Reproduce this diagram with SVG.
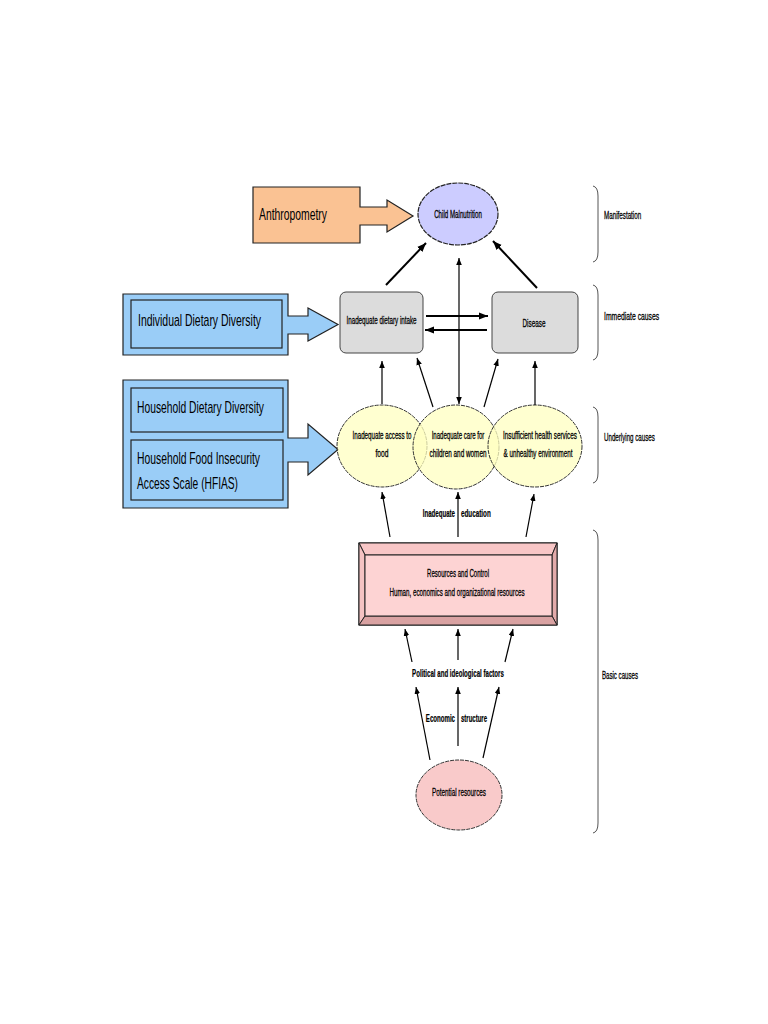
<svg xmlns="http://www.w3.org/2000/svg" width="768" height="1024" viewBox="0 0 768 1024">
<defs>
<marker id="ah" viewBox="0 0 10 8" refX="10" refY="4" markerWidth="7" markerHeight="6" markerUnits="userSpaceOnUse" orient="auto">
<path d="M0,0 L10,4 L0,8 z" fill="#000"/>
</marker>
<marker id="ahs" viewBox="0 0 10 8" refX="0" refY="4" markerWidth="7" markerHeight="6" markerUnits="userSpaceOnUse" orient="auto">
<path d="M10,0 L0,4 L10,8 z" fill="#000"/>
</marker>
<marker id="ahb" viewBox="0 0 10 8" refX="10" refY="4" markerWidth="9" markerHeight="8" markerUnits="userSpaceOnUse" orient="auto">
<path d="M0,0 L10,4 L0,8 z" fill="#000"/>
</marker>
</defs>
<style>
text{font-family:"Liberation Sans",Arial,sans-serif;fill:#000}
.big{font-size:17px}
.sm{font-size:11px;stroke:#000;stroke-width:0.3}
.b{font-weight:bold;stroke-width:0.2}
.m{text-anchor:middle}
.e{text-anchor:end}
.c{stroke:#000;stroke-width:1.2;fill:none;marker-end:url(#ah)}
.ct{stroke:#000;stroke-width:2;fill:none;marker-end:url(#ahb)}
.ell{fill:#FFFFC0;fill-opacity:0.75;stroke:#333;stroke-width:1;stroke-dasharray:4 1}
.box{stroke:#222;stroke-width:1.2}
.brace{fill:none;stroke:#555;stroke-width:1}
</style>
<rect width="768" height="1024" fill="#fff"/>

<g id="anthropometry">
<path class="box" d="M253,187 L360,187 L360,207 L387,207 L387,200 L413,216 L387,232 L387,225 L360,225 L360,243 L253,243 Z" fill="#FAC293"/>
<text class="big" x="259" y="220" textLength="68" lengthAdjust="spacingAndGlyphs">Anthropometry</text>
</g>

<g id="individual-dietary-diversity">
<path class="box" d="M123,294 L288,294 L288,316 L308,316 L308,308 L338,324.5 L308,341 L308,334 L288,334 L288,355 L123,355 Z" fill="#9ACDF7"/>
<rect class="box" x="131" y="300" width="151" height="48" fill="#9ACDF7"/>
<text class="big" x="138" y="326" textLength="123" lengthAdjust="spacingAndGlyphs">Individual Dietary Diversity</text>
</g>

<g id="household">
<path class="box" d="M123,380 L288,380 L288,438 L308,438 L308,424 L338,449.5 L308,475 L308,462 L288,462 L288,508 L123,508 Z" fill="#9ACDF7"/>
<rect class="box" x="131" y="388" width="152" height="44" fill="#9ACDF7"/>
<rect class="box" x="131" y="440" width="152" height="60" fill="#9ACDF7"/>
<text class="big" x="137" y="413" textLength="127" lengthAdjust="spacingAndGlyphs">Household Dietary Diversity</text>
<text class="big" x="137" y="464" textLength="123" lengthAdjust="spacingAndGlyphs">Household Food Insecurity</text>
<text class="big" x="137" y="489" textLength="101" lengthAdjust="spacingAndGlyphs">Access Scale (HFIAS)</text>
</g>

<g id="child-malnutrition">
<ellipse cx="458" cy="214" rx="40" ry="31" fill="#CCCCFF" stroke="#222" stroke-width="1.2" stroke-dasharray="5 1"/>
<text class="sm m" transform="translate(458,218) scale(0.62,1)" textLength="77" lengthAdjust="spacingAndGlyphs">Child Malnutrition</text>
</g>

<g id="inadequate-dietary-intake">
<rect x="340" y="292" width="83" height="61" rx="6" fill="#DCDCDC" stroke="#444" stroke-width="1"/>
<text class="sm m" transform="translate(381.5,324) scale(0.62,1)" textLength="113" lengthAdjust="spacingAndGlyphs">Inadequate dietary intake</text>
</g>

<g id="disease">
<rect x="492" y="292" width="86" height="61" rx="6" fill="#DCDCDC" stroke="#444" stroke-width="1"/>
<text class="sm m" transform="translate(534,327) scale(0.62,1)" textLength="37" lengthAdjust="spacingAndGlyphs">Disease</text>
</g>

<g id="access-to-food">
<ellipse class="ell" cx="382" cy="446" rx="45" ry="41"/>
<text class="sm m" transform="translate(382,439) scale(0.62,1)" textLength="95" lengthAdjust="spacingAndGlyphs">Inadequate access to</text>
<text class="sm m" transform="translate(382,457) scale(0.62,1)" textLength="21" lengthAdjust="spacingAndGlyphs">food</text>
</g>

<g id="care">
<ellipse class="ell" cx="456" cy="447" rx="43" ry="42"/>
<text class="sm m" transform="translate(458,439) scale(0.62,1)" textLength="85" lengthAdjust="spacingAndGlyphs">Inadequate care for</text>
<text class="sm m" transform="translate(458,457) scale(0.62,1)" textLength="92" lengthAdjust="spacingAndGlyphs">children and women</text>
</g>

<g id="health-services">
<ellipse class="ell" cx="535" cy="446" rx="47" ry="41"/>
<text class="sm m" transform="translate(540,439) scale(0.62,1)" textLength="119" lengthAdjust="spacingAndGlyphs">Insufficient health services</text>
<text class="sm m" transform="translate(538,457) scale(0.62,1)" textLength="111" lengthAdjust="spacingAndGlyphs">&amp; unhealthy environment</text>
</g>

<g id="resources-and-control">
<rect x="359" y="543" width="198" height="82" fill="#F9CACA" stroke="#222" stroke-width="1.2"/>
<path d="M359,543 L557,543 L552,555 L365,555 Z" fill="#F8C6C6" stroke="#222" stroke-width="1"/>
<path d="M359,543 L365,555 L365,616 L359,625 Z" fill="#F4C2C2" stroke="#222" stroke-width="1"/>
<path d="M557,543 L557,625 L552,616 L552,555 Z" fill="#E2AAAA" stroke="#222" stroke-width="1"/>
<path d="M359,625 L365,616 L552,616 L557,625 Z" fill="#D9A2A2" stroke="#222" stroke-width="1"/>
<rect x="365" y="555" width="187" height="61" fill="#FDD3D3" stroke="#222" stroke-width="1"/>
<text class="sm m" transform="translate(458,577) scale(0.62,1)" textLength="100" lengthAdjust="spacingAndGlyphs">Resources and Control</text>
<text class="sm m" transform="translate(457,596) scale(0.62,1)" textLength="218" lengthAdjust="spacingAndGlyphs">Human, economics and organizational resources</text>
</g>

<g id="potential-resources">
<ellipse cx="459" cy="795" rx="43" ry="35" fill="#F9CACA" stroke="#333" stroke-width="1" stroke-dasharray="4 1"/>
<text class="sm m" transform="translate(459,796) scale(0.62,1)" textLength="87" lengthAdjust="spacingAndGlyphs">Potential resources</text>
</g>

<g id="connectors">
<line class="ct" x1="386" y1="285" x2="426" y2="243"/>
<line class="ct" x1="537" y1="288" x2="493" y2="241"/>
<line class="c" x1="459" y1="404" x2="459" y2="258" marker-start="url(#ahs)"/>
<line class="ct" x1="426" y1="316" x2="488" y2="316"/>
<line class="ct" x1="487" y1="330" x2="425" y2="330"/>
<line class="c" x1="382" y1="404" x2="382" y2="361"/>
<line class="c" x1="433" y1="407" x2="417" y2="358"/>
<line class="c" x1="484" y1="407" x2="498" y2="359"/>
<line class="c" x1="535" y1="405" x2="535" y2="361"/>
<line class="c" x1="390" y1="537" x2="382" y2="492"/>
<line class="c" x1="458" y1="537" x2="458" y2="492"/>
<line class="c" x1="526" y1="537" x2="534" y2="494"/>
<line class="c" x1="412" y1="662" x2="405" y2="629"/>
<line class="c" x1="458" y1="660" x2="458" y2="629"/>
<line class="c" x1="505" y1="662" x2="513" y2="629"/>
<line class="c" x1="430" y1="760" x2="416" y2="687"/>
<line class="c" x1="458" y1="746" x2="458" y2="687"/>
<line class="c" x1="483" y1="758" x2="499" y2="687"/>
</g>

<g id="connector-labels">
<text class="sm b e" transform="translate(455,517) scale(0.62,1)" textLength="52" lengthAdjust="spacingAndGlyphs">Inadequate</text>
<text class="sm b" transform="translate(461,517) scale(0.62,1)" textLength="48" lengthAdjust="spacingAndGlyphs">education</text>
<text class="sm b m" transform="translate(458,677) scale(0.62,1)" textLength="148" lengthAdjust="spacingAndGlyphs">Political and ideological factors</text>
<text class="sm b e" transform="translate(455,722) scale(0.62,1)" textLength="47" lengthAdjust="spacingAndGlyphs">Economic</text>
<text class="sm b" transform="translate(461,722) scale(0.62,1)" textLength="42" lengthAdjust="spacingAndGlyphs">structure</text>
</g>

<g id="levels">
<path class="brace" d="M593,186 Q598,187 598,196 L598,252 Q598,261 593,262"/>
<text class="sm" transform="translate(604,219) scale(0.62,1)" textLength="60" lengthAdjust="spacingAndGlyphs">Manifestation</text>
<path class="brace" d="M593,285 Q598,286 598,295 L598,350 Q598,359 593,360"/>
<text class="sm" transform="translate(604,320) scale(0.62,1)" textLength="89" lengthAdjust="spacingAndGlyphs">Immediate causes</text>
<path class="brace" d="M593,407 Q598,408 598,417 L598,473 Q598,482 593,483"/>
<text class="sm" transform="translate(604,441) scale(0.62,1)" textLength="82" lengthAdjust="spacingAndGlyphs">Underlying causes</text>
<path class="brace" d="M593,530 Q598,531 598,540 L598,823 Q598,832 593,833"/>
<text class="sm" transform="translate(602,679) scale(0.62,1)" textLength="58" lengthAdjust="spacingAndGlyphs">Basic causes</text>
</g>
</svg>
